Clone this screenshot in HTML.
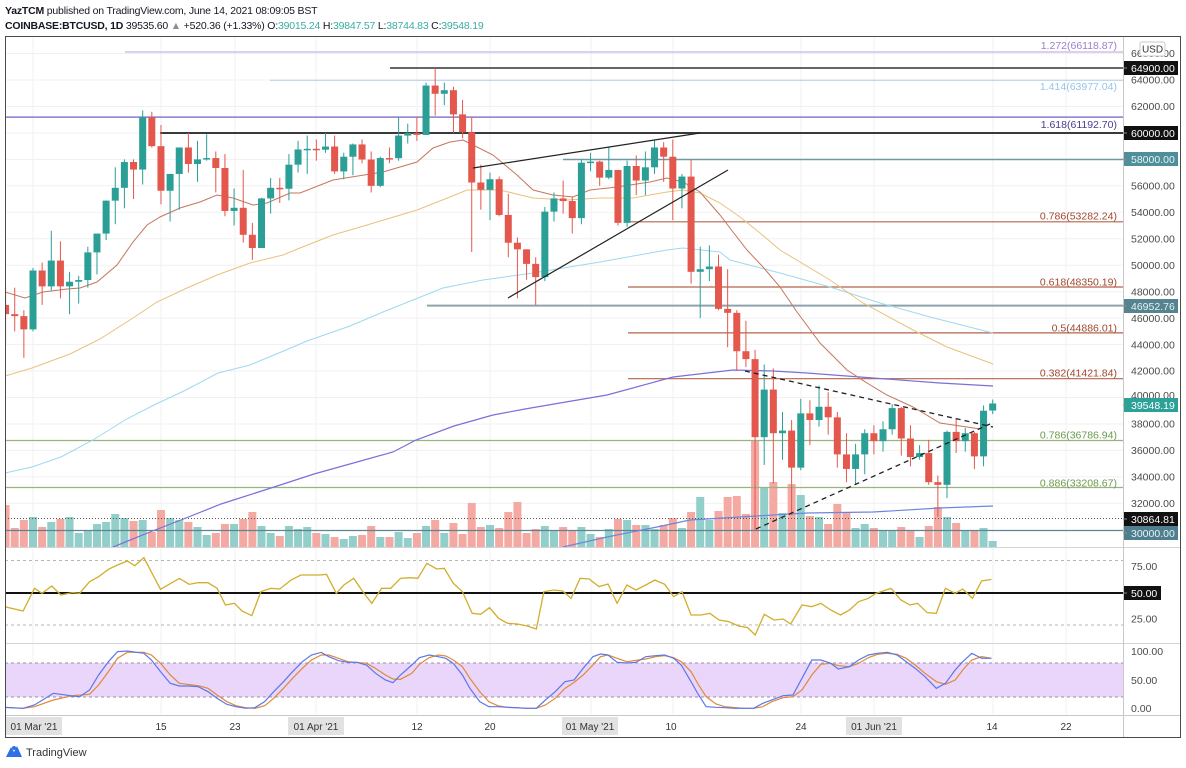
<!DOCTYPE html>
<html><head><meta charset="utf-8">
<style>
html,body{margin:0;padding:0;background:#fff;}
svg{display:block;font-family:"Liberation Sans",sans-serif;}
</style></head>
<body>
<svg id="c" width="1186" height="768" viewBox="0 0 1186 768" xmlns="http://www.w3.org/2000/svg">
<defs>
<clipPath id="pp"><rect x="5" y="36" width="1118" height="511"/></clipPath>
<clipPath id="rp"><rect x="5" y="548" width="1118" height="95"/></clipPath>
<clipPath id="sp"><rect x="5" y="644" width="1118" height="71"/></clipPath>
</defs>
<rect width="1186" height="768" fill="#fff"/>

<!-- header -->
<text x="5" y="14" font-size="10.5" fill="#131722" letter-spacing="-0.2"><tspan font-weight="bold">YazTCM</tspan> published on TradingView.com, June 14, 2021 08:09:05 BST</text>
<text x="5" y="29" font-size="10.5" fill="#131722" letter-spacing="-0.2"><tspan font-weight="bold">COINBASE:BTCUSD, 1D</tspan> 39535.60 <tspan fill="#8a8f99">▲</tspan> +520.36 (+1.33%) O:<tspan fill="#3aada3">39015.24</tspan> H:<tspan fill="#3aada3">39847.57</tspan> L:<tspan fill="#3aada3">38744.83</tspan> C:<tspan fill="#3aada3">39548.19</tspan></text>

<!-- grid -->
<g stroke="#f1f1f3" stroke-width="1">
<line x1="5" x2="1123" y1="53.5" y2="53.5"/><line x1="5" x2="1123" y1="80" y2="80"/><line x1="5" x2="1123" y1="106.5" y2="106.5"/><line x1="5" x2="1123" y1="133" y2="133"/><line x1="5" x2="1123" y1="159.4" y2="159.4"/><line x1="5" x2="1123" y1="185.8" y2="185.8"/><line x1="5" x2="1123" y1="212.3" y2="212.3"/><line x1="5" x2="1123" y1="238.8" y2="238.8"/><line x1="5" x2="1123" y1="265.2" y2="265.2"/><line x1="5" x2="1123" y1="291.7" y2="291.7"/><line x1="5" x2="1123" y1="318.1" y2="318.1"/><line x1="5" x2="1123" y1="344.6" y2="344.6"/><line x1="5" x2="1123" y1="371" y2="371"/><line x1="5" x2="1123" y1="397.5" y2="397.5"/><line x1="5" x2="1123" y1="424" y2="424"/><line x1="5" x2="1123" y1="450.4" y2="450.4"/><line x1="5" x2="1123" y1="476.9" y2="476.9"/><line x1="5" x2="1123" y1="503.3" y2="503.3"/>
<line x1="33" x2="33" y1="36" y2="715"/><line x1="161" x2="161" y1="36" y2="715"/><line x1="235" x2="235" y1="36" y2="715"/><line x1="316" x2="316" y1="36" y2="715"/><line x1="417" x2="417" y1="36" y2="715"/><line x1="490" x2="490" y1="36" y2="715"/><line x1="591" x2="591" y1="36" y2="715"/><line x1="673" x2="673" y1="36" y2="715"/><line x1="801" x2="801" y1="36" y2="715"/><line x1="874" x2="874" y1="36" y2="715"/><line x1="993" x2="993" y1="36" y2="715"/><line x1="1066" x2="1066" y1="36" y2="715"/>
</g>

<g clip-path="url(#pp)">
<g id="vol"></g>
<!-- level lines -->
<line x1="125" x2="1123" y1="52" y2="52" stroke="#b7a3dc" stroke-width="1"/>
<line x1="390" x2="1123" y1="68" y2="68" stroke="#333" stroke-width="1.5"/>
<line x1="270" x2="1123" y1="80.3" y2="80.3" stroke="#a9cdea" stroke-width="1"/>
<line x1="5" x2="1123" y1="117.1" y2="117.1" stroke="#8a7acb" stroke-width="1.5"/>
<line x1="160" x2="1123" y1="133" y2="133" stroke="#3a3a3a" stroke-width="2"/>
<line x1="563" x2="1123" y1="159.5" y2="159.5" stroke="#6f9aa5" stroke-width="1.5"/>
<line x1="628" x2="1123" y1="221.8" y2="221.8" stroke="#b5654a" stroke-width="1.2"/>
<line x1="628" x2="1123" y1="287" y2="287" stroke="#b5654a" stroke-width="1.2"/>
<line x1="427" x2="1123" y1="305.6" y2="305.6" stroke="#8ea2ac" stroke-width="2"/>
<line x1="628" x2="1123" y1="332.9" y2="332.9" stroke="#b5654a" stroke-width="1.2"/>
<line x1="628" x2="1123" y1="378.7" y2="378.7" stroke="#b5654a" stroke-width="1.2"/>
<line x1="5" x2="1123" y1="440.5" y2="440.5" stroke="#97b57c" stroke-width="1.2"/>
<line x1="5" x2="1123" y1="487.5" y2="487.5" stroke="#97b57c" stroke-width="1.2"/>
<line x1="5" x2="1123" y1="518.5" y2="518.5" stroke="#555" stroke-width="1" stroke-dasharray="1,2"/>
<line x1="5" x2="1123" y1="530.5" y2="530.5" stroke="#5d8594" stroke-width="1.2"/>
<!-- MAs -->
<polyline fill="none" stroke="#9fd8ef" stroke-width="1" points="5,473 32,467 61,457 93,440 125,420 154,405 186,390 218,373 250,365 286,350 307,341 350,326 383,312 443,288 483,280 533,273 600,262 667,250 683,248 720,252 730,260 780,273 830,287 880,303 930,317 993,333"/>
<polyline fill="none" stroke="#e8c27c" stroke-width="1" points="5,376 32,368 70,354 100,339 133,318 157,302 187,288 217,275 250,263 283,255 300,248 333,235 367,225 417,210 450,197 467,190 500,190 533,198 567,200 600,198 633,198 667,192 683,190 700,193 720,203 740,217 760,233 780,250 830,280 863,303 913,330 947,347 993,364"/>
<polyline fill="none" stroke="#7d6ed8" stroke-width="1.2" points="113,547 150,532 186,518 221,504 271,488 314,474 357,462 393,452 416,440 454,426 493,415 525,409 560,403 607,395 673,377 733,370 773,371 807,373 873,378 940,383 993,386"/>
<polyline fill="none" stroke="#6c86dc" stroke-width="1.2" points="563,547 607,537 657,527 690,520 740,517 807,513 873,512 940,508 993,506"/>
<polyline fill="none" stroke="#c4765e" stroke-width="1" points="5,292 25,298 43,292 67,289 80,288 97,282 117,265 133,242 147,225 160,217 180,208 200,202 217,195 233,198 253,205 267,203 290,193 300,193 333,180 383,172 417,162 433,148 450,142 463,140 473,145 493,155 517,175 533,190 553,195 573,197 590,190 617,187 650,182 667,178 683,182 700,192 720,215 733,232 747,250 763,267 780,287 797,312 820,343 847,370 867,383 887,395 913,407 940,423 967,427 987,430"/>
<g id="cand"></g>
<!-- trendlines -->
<line x1="473" y1="168" x2="700" y2="133" stroke="#222" stroke-width="1.2"/>
<line x1="508" y1="298" x2="728" y2="170" stroke="#222" stroke-width="1.2"/>
<line x1="745" y1="371" x2="993" y2="427" stroke="#222" stroke-width="1.3" stroke-dasharray="5,4"/>
<line x1="756" y1="529" x2="990" y2="424" stroke="#222" stroke-width="1.3" stroke-dasharray="5,4"/>
</g>

<!-- fib labels -->
<g font-size="10.5" text-anchor="end">
<text x="1117" y="49" fill="#9a80cc">1.272(66118.87)</text>
<text x="1117" y="90" fill="#98c4e8">1.414(63977.04)</text>
<text x="1117" y="128" fill="#4b3b8f">1.618(61192.70)</text>
<text x="1117" y="219.5" fill="#a0472f">0.786(53282.24)</text>
<text x="1117" y="285.5" fill="#a0472f">0.618(48350.19)</text>
<text x="1117" y="331.5" fill="#a0472f">0.5(44886.01)</text>
<text x="1117" y="376.5" fill="#a0472f">0.382(41421.84)</text>
<text x="1117" y="438.5" fill="#6c9a4e">0.786(36786.94)</text>
<text x="1117" y="486.5" fill="#6c9a4e">0.886(33208.67)</text>
</g>

<!-- RSI pane -->
<g clip-path="url(#rp)">
<line x1="5" x2="1123" y1="560.5" y2="560.5" stroke="#b5b5b5" stroke-dasharray="3,3"/>
<line x1="5" x2="1123" y1="625" y2="625" stroke="#b5b5b5" stroke-dasharray="3,3"/>
<line x1="5" x2="1123" y1="593" y2="593" stroke="#111" stroke-width="2"/>
<g transform="matrix(0.7547 0 0 0.33333 0.5 545)">
<polyline fill="none" stroke="#d1ae2c" stroke-width="1.3" vector-effect="non-scaling-stroke" points="5,185 30,198 45,130 55,145 68,123 80,150 95,143 105,145 118,110 130,95 143,73 155,60 168,48 178,62 190,38 212,133 237,100 250,118 262,113 275,113 287,130 298,180 310,175 320,198 333,212 345,140 358,130 370,132 385,105 398,90 410,90 423,90 432,88 445,145 455,120 468,100 480,140 492,175 505,130 517,130 530,100 543,98 553,100 565,55 578,72 588,70 600,115 612,140 625,205 636,208 648,188 660,220 672,235 685,237 698,243 710,252 720,140 733,135 745,138 756,160 768,100 780,102 793,125 805,117 817,175 830,120 842,135 855,120 867,105 880,118 892,155 903,140 915,210 928,210 940,205 952,225 965,230 978,243 990,248 1000,270 1012,208 1025,225 1037,222 1047,237 1062,180 1075,185 1087,175 1100,195 1113,210 1125,195 1137,170 1150,160 1160,145 1180,130 1193,165 1205,180 1215,175 1228,203 1240,205 1252,130 1265,145 1275,132 1288,160 1300,108 1313,103"/>
</g>
</g>

<!-- Stoch pane -->
<g clip-path="url(#sp)">
<rect x="5" y="663" width="1118" height="34" fill="#ead5fb"/>
<line x1="5" x2="1123" y1="663" y2="663" stroke="#9a8fa3" stroke-dasharray="3,3"/>
<line x1="5" x2="1123" y1="697" y2="697" stroke="#9a8fa3" stroke-dasharray="3,3"/>
<g transform="matrix(0.7547 0 0 0.33333 0.5 545)">
<polyline fill="none" stroke="#e08a3a" stroke-width="1.2" vector-effect="non-scaling-stroke" points="5,487 30,490 45,485 70,465 95,452 118,448 130,420 143,380 155,340 168,322 190,322 200,330 212,355 225,390 237,415 262,422 275,430 287,450 300,470 312,482 325,488 337,490 350,482 362,460 375,430 387,400 400,370 412,345 425,330 435,330 448,340 460,350 485,355 497,370 510,390 520,402 530,403 545,385 555,358 568,338 580,330 590,333 600,345 612,365 622,400 635,440 647,470 660,483 672,487 697,490 710,490 722,480 735,460 748,430 760,412 772,390 785,360 795,335 805,330 817,340 830,350 855,342 868,335 880,332 892,338 902,350 915,380 925,420 935,455 948,477 960,485 985,490 998,490 1010,485 1022,470 1037,458 1050,455 1062,435 1075,390 1087,358 1100,355 1110,362 1125,365 1137,355 1150,338 1162,328 1175,325 1188,328 1200,340 1212,360 1225,385 1240,410 1252,418 1265,405 1275,375 1287,345 1300,335 1313,340"/>
<polyline fill="none" stroke="#5b78e8" stroke-width="1.2" vector-effect="non-scaling-stroke" points="5,487 30,490 45,480 70,445 80,448 95,453 105,455 118,435 130,390 143,350 155,320 168,318 180,322 190,325 200,345 212,380 225,415 237,423 250,423 262,425 275,440 287,460 300,478 312,485 325,490 337,488 350,470 362,440 375,410 387,380 400,350 412,330 425,322 435,335 448,347 460,352 472,352 485,360 497,385 510,405 520,413 530,390 545,360 555,338 568,330 580,335 590,340 600,355 612,390 622,430 635,470 647,485 660,485 672,487 685,488 697,490 710,490 722,465 735,440 748,410 760,405 772,370 785,335 795,327 805,330 817,352 830,354 842,352 855,335 868,332 880,330 892,340 902,360 915,410 925,450 935,485 948,487 960,488 972,490 985,490 998,490 1010,475 1022,465 1037,452 1050,450 1062,400 1075,345 1087,345 1100,355 1110,372 1125,365 1137,345 1150,330 1162,325 1175,322 1188,330 1200,350 1212,370 1225,395 1240,430 1252,415 1265,375 1275,350 1287,325 1300,340 1313,340"/>
</g>
</g>

<!-- pane separators -->
<line x1="5" x2="1180" y1="547.5" y2="547.5" stroke="#d4d4d4"/>
<line x1="5" x2="1180" y1="643.5" y2="643.5" stroke="#d4d4d4"/>
<line x1="5" x2="1180" y1="715.5" y2="715.5" stroke="#c8c8c8"/>
<line x1="1123.5" x2="1123.5" y1="36" y2="737" stroke="#c8c8c8"/>

<!-- price axis -->
<g font-size="10.5" fill="#4a4a4a">
<text x="1131" y="57">66000.00</text>
<text x="1131" y="83.7">64000.00</text>
<text x="1131" y="110.2">62000.00</text>
<text x="1131" y="189.5">56000.00</text>
<text x="1131" y="216">54000.00</text>
<text x="1131" y="242.5">52000.00</text>
<text x="1131" y="268.9">50000.00</text>
<text x="1131" y="295.4">48000.00</text>
<text x="1131" y="321.8">46000.00</text>
<text x="1131" y="348.3">44000.00</text>
<text x="1131" y="374.7">42000.00</text>
<text x="1131" y="399">40000.00</text>
<text x="1131" y="427.7">38000.00</text>
<text x="1131" y="454.1">36000.00</text>
<text x="1131" y="480.6">34000.00</text>
<text x="1131" y="507">32000.00</text>
<text x="1131" y="570">75.00</text>
<text x="1131" y="622.7">25.00</text>
<text x="1131" y="655">100.00</text>
<text x="1131" y="684">50.00</text>
<text x="1131" y="712">0.00</text>
</g>
<rect x="1140" y="42" width="25" height="14" fill="#fff" stroke="#c9c9c9" rx="2"/>
<text x="1152.5" y="52.5" font-size="10" fill="#333" text-anchor="middle">USD</text>
<g font-size="10.5" fill="#fff">
<rect x="1124" y="61" width="54" height="14" fill="#111"/><text x="1131" y="71.8">64900.00</text>
<rect x="1124" y="126" width="54" height="14" fill="#111"/><text x="1131" y="136.8">60000.00</text>
<rect x="1124" y="152" width="54" height="14" fill="#4f8f99"/><text x="1131" y="162.8" fill="#e6f4f5">58000.00</text>
<rect x="1124" y="299" width="54" height="14" fill="#55838f"/><text x="1131" y="309.8" fill="#e6f4f5">46952.76</text>
<rect x="1124" y="398" width="54" height="14" fill="#2ba197"/><text x="1131" y="408.8">39548.19</text>
<rect x="1124" y="512" width="54" height="14" fill="#111"/><text x="1131" y="522.8">30864.81</text>
<rect x="1124" y="526" width="54" height="14" fill="#4f7f8f"/><text x="1131" y="536.8" fill="#e6f4f5">30000.00</text>
<rect x="1124" y="586" width="37" height="14" fill="#111"/><text x="1131" y="596.8">50.00</text>
</g>
<g stroke="#888"><line x1="1123" x2="1127" y1="68" y2="68"/><line x1="1123" x2="1127" y1="133" y2="133"/><line x1="1123" x2="1127" y1="159" y2="159"/><line x1="1123" x2="1127" y1="306" y2="306"/><line x1="1123" x2="1127" y1="405" y2="405"/><line x1="1123" x2="1127" y1="519" y2="519"/><line x1="1123" x2="1127" y1="533" y2="533"/><line x1="1123" x2="1127" y1="593" y2="593"/></g>

<!-- time axis -->
<g fill="#e2e2e2">
<rect x="6" y="717" width="56" height="18"/>
<rect x="288" y="717" width="56" height="18"/>
<rect x="562" y="717" width="56" height="18"/>
<rect x="846" y="717" width="56" height="18"/>
</g>
<g font-size="10" fill="#333" text-anchor="middle">
<text x="34" y="730">01 Mar '21</text>
<text x="161" y="730">15</text>
<text x="235" y="730">23</text>
<text x="316" y="730">01 Apr '21</text>
<text x="417" y="730">12</text>
<text x="490" y="730">20</text>
<text x="590" y="730">01 May '21</text>
<text x="671" y="730">10</text>
<text x="801" y="730">24</text>
<text x="874" y="730">01 Jun '21</text>
<text x="992" y="730">14</text>
<text x="1066" y="730">22</text>
</g>

<!-- frame -->
<rect x="5.5" y="36.5" width="1175" height="701" fill="none" stroke="#4a4a4a" stroke-width="1"/>

<!-- logo -->
<path d="M6,757 L11,747 L14,752 L17,746 L22,757 Z" fill="#2f6fe8"/>
<circle cx="14" cy="748" r="2" fill="#2f6fe8"/>
<text x="26" y="756" font-size="11" fill="#333">TradingView</text>
</svg>
<script>
(function(){
var D=[
[47000,48400,44100,46300],[46300,48300,45000,46150],[46150,46600,43000,45150],
[45150,49800,45000,49600],[49600,50200,47000,48400],[48400,52600,48100,50350],[50350,51800,47500,48400],[48400,49500,46300,48750],[48750,49200,47100,48880],[48880,51400,48300,50970],[50970,52400,49300,52390],[52390,54900,51900,54880],[54880,57400,53100,55850],[55850,58000,54300,57800],[57800,58000,55000,57230],[57230,61700,56100,61180],[61180,61600,58900,59000],[59000,60600,54600,55630],[55630,56900,53300,56900],[56900,58900,54200,58900],[58900,60000,57000,57650],[57650,59400,56300,58000],[58000,59900,57900,58100],[58100,58600,55500,57350],[57350,58400,53700,54100],[54100,55800,53000,54340],[54340,57200,51700,52300],[52300,53200,50400,51300],[51300,55100,51300,55050],[55050,56600,53900,55850],[55850,56600,54700,55780],[55780,58400,54900,57600],[57600,59400,57000,58750],[58750,59800,56900,58800],
[58800,59500,57900,58730],[58730,60000,58500,58970],[58970,59800,56900,57090],[57090,58500,56500,58200],[58200,59200,56800,59130],[59130,59500,57700,57990],[57990,58600,55500,56000],[56000,58200,55900,58100],[58100,58900,57700,58090],[58090,61200,57900,59800],[59800,60700,59200,59990],[59990,61200,59400,59850],[59850,63800,59850,63580],[63580,64900,61300,62960],[62960,63800,62100,63230],[63230,63500,60000,61400],[61400,62500,59600,60050],[60050,61200,51000,56250],[56250,57600,54200,55700],[55700,57000,53400,56500],[56500,56700,53700,53800],[53800,55400,50600,51700],[51700,52100,47500,51200],[51200,51200,48900,50100],[50100,50600,47000,49100],[49100,54400,48800,54050],[54050,55500,53300,55050],[55050,56400,53900,54850],[54850,55200,52400,53560],[53560,58000,53100,57750],
[57750,58500,57100,57830],[57830,57900,56000,56620],[56620,58900,56500,57200],[57200,57200,53000,53200],[53200,57900,52900,57500],[57500,58300,55300,56400],[56400,58600,55300,57400],[57400,59500,56900,58900],[58900,59300,56300,58200],[58200,59500,53400,55800],[55800,56900,54300,56700],[56700,58000,48600,49500],[49500,51400,46000,49700],[49700,51500,48800,49900],[49900,50800,46600,46700],[46700,49700,43800,46400],[46400,46600,42000,43500],[43500,45800,42300,42900],[42900,43600,30000,37000],[37000,42500,34900,40600],[40600,42200,33500,37300],[37300,38900,35300,37500],[37500,38300,31100,34700],[34700,39900,34500,38800],[38800,39800,36400,38300],[38300,40900,37800,39300],[39300,40400,37200,38500],[38500,38900,34700,35700],[35700,37300,33600,34600],[34600,36500,33400,35700],[35700,37600,34200,37300],
[37300,37900,35700,36700],[36700,38200,35900,37600],[37600,39500,37200,39200],[39200,39300,35600,36900],[36900,37900,34800,35500],[35500,36400,35300,35800],[35800,36800,33400,33600],[33600,34100,31000,33400],[33400,37500,32400,37400],[37400,38400,35800,36700],[36700,37700,35900,37300],[37300,37400,34600,35550],[35550,39400,34800,39000],[39015,39848,38745,39548]
];
var V=[505,528,520,517,527,522,519,517,533,530,524,522,514,518,521,520,532,510,518,520,522,527,535,533,524,524,519,512,526,533,536,526,529,527,533,534,537,539,536,535,526,537,537,532,538,533,526,520,533,523,534,503,527,525,528,512,502,533,529,526,531,527,530,527,534,537,529,519,520,525,525,529,525,518,528,512,497,520,511,497,496,514,440,487,482,513,484,495,516,517,524,504,513,528,524,528,531,531,527,531,537,526,507,517,523,531,530,528,541];
var S='http://www.w3.org/2000/svg';
var g=document.getElementById('cand'),gv=document.getElementById('vol');
function Y(p){return 397.5-(p-40000)*0.013229;}
function R(par,x,y,w,h,f){var r=document.createElementNS(S,'rect');r.setAttribute('x',x);r.setAttribute('y',y);r.setAttribute('width',w);r.setAttribute('height',h);r.setAttribute('fill',f);par.appendChild(r);}
for(var i=0;i<D.length;i++){
 var d=D[i],x=33+(i-3)*9.14,up=d[3]>=d[0];
 var col=up?'#2b9f96':'#e4574d';
 var vt=V[i]||540;
 R(gv,x-4,vt,8,547-vt,up?'#93cfca':'#f4a9a3');
 R(g,x-0.5,Y(d[1]),1,Y(d[2])-Y(d[1]),col);
 var t=Y(Math.max(d[0],d[3])),b=Y(Math.min(d[0],d[3]));
 R(g,x-3.5,t,7,Math.max(1.5,b-t),col);
}
})();
</script>
</body></html>
